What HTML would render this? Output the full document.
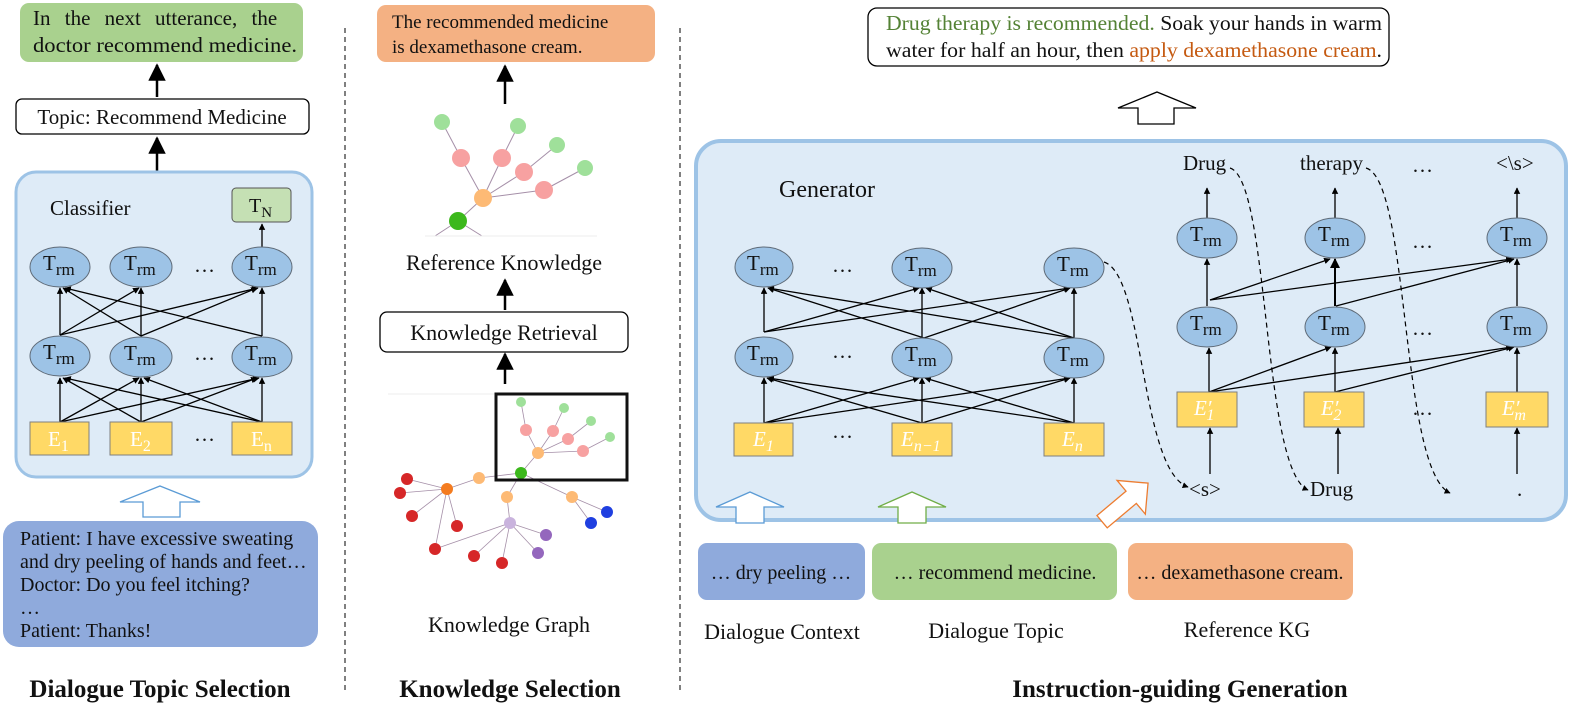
<!DOCTYPE html>
<html><head><meta charset="utf-8"><style>
html,body{margin:0;padding:0;background:#fff;}
svg{display:block;}
text{font-family:"Liberation Serif",serif;fill:#111;}
</style></head><body>
<svg width="1578" height="704" viewBox="0 0 1578 704" xmlns="http://www.w3.org/2000/svg">
<defs>
<marker id="a" viewBox="0 0 10 10" refX="9" refY="5" markerWidth="7" markerHeight="7" orient="auto-start-reverse"><path d="M0,0L10,5L0,10z" fill="#000"/></marker>
<marker id="ab" viewBox="0 0 10 10" refX="9" refY="5" markerWidth="5" markerHeight="5" orient="auto"><path d="M0,0L10,5L0,10z" fill="#000"/></marker>
</defs>

<!-- dividers -->
<line x1="345" y1="28" x2="345" y2="690" stroke="#000" stroke-dasharray="5,4" stroke-width="1"/>
<line x1="680" y1="28" x2="680" y2="690" stroke="#000" stroke-dasharray="5,4" stroke-width="1"/>

<!-- ===== LEFT ===== -->
<rect x="20" y="3" width="283" height="59" rx="9" fill="#a9d18e"/>
<text x="33" y="25" font-size="21" word-spacing="9">In the next utterance, the</text>
<text x="33" y="52" font-size="21" textLength="264" lengthAdjust="spacingAndGlyphs">doctor recommend medicine.</text>
<line x1="157" y1="97" x2="157" y2="65" stroke="#000" stroke-width="2.5" marker-end="url(#a)"/>
<rect x="16" y="99" width="293" height="35" rx="6" fill="#fff" stroke="#000" stroke-width="1.3"/>
<text x="162" y="124" font-size="21" text-anchor="middle">Topic: Recommend Medicine</text>
<line x1="157" y1="172" x2="157" y2="138" stroke="#000" stroke-width="2.5" marker-end="url(#a)"/>

<rect x="16" y="172" width="296" height="305" rx="20" fill="#deebf7" stroke="#9dc3e6" stroke-width="3"/>
<text x="50" y="215" font-size="21">Classifier</text>
<rect x="232" y="188" width="59" height="34" rx="4" fill="#c5e0b4" stroke="#555"/>
<text x="249" y="212" font-size="20">T<tspan font-size="15" dy="5">N</tspan></text>
<line x1="262" y1="247" x2="262" y2="224" stroke="#000" stroke-width="1.3" marker-end="url(#ab)"/>

<g stroke="#000" stroke-width="1.3" marker-end="url(#ab)">
<line x1="60" y1="422" x2="60" y2="378"/><line x1="60" y1="422" x2="139" y2="378"/><line x1="60" y1="422" x2="259" y2="378"/>
<line x1="141" y1="422" x2="63" y2="378"/><line x1="141" y1="422" x2="141" y2="378"/><line x1="141" y1="422" x2="257" y2="378"/>
<line x1="262" y1="422" x2="65" y2="378"/><line x1="262" y1="422" x2="144" y2="378"/><line x1="262" y1="422" x2="262" y2="378"/>
<line x1="60" y1="335" x2="60" y2="288"/><line x1="60" y1="335" x2="139" y2="288"/><line x1="60" y1="335" x2="258" y2="288"/>
<line x1="141" y1="336" x2="63" y2="288"/><line x1="141" y1="336" x2="141" y2="288"/><line x1="141" y1="336" x2="257" y2="288"/>
<line x1="262" y1="336" x2="65" y2="288"/><line x1="262" y1="336" x2="262" y2="288"/>
</g>
<g fill="#9dc3e6" stroke="#5f6b78" stroke-width="1">
<ellipse cx="60" cy="267" rx="30" ry="20"/><ellipse cx="141" cy="267" rx="31" ry="20"/><ellipse cx="262" cy="267" rx="30" ry="20"/>
<ellipse cx="60" cy="356" rx="30" ry="20"/><ellipse cx="141" cy="357" rx="31" ry="20"/><ellipse cx="262" cy="357" rx="30" ry="20"/>
</g>
<g font-size="21">
<text x="43" y="270">T<tspan font-size="17" dy="5">rm</tspan></text>
<text x="124" y="270">T<tspan font-size="17" dy="5">rm</tspan></text>
<text x="245" y="270">T<tspan font-size="17" dy="5">rm</tspan></text>
<text x="43" y="359">T<tspan font-size="17" dy="5">rm</tspan></text>
<text x="124" y="360">T<tspan font-size="17" dy="5">rm</tspan></text>
<text x="245" y="360">T<tspan font-size="17" dy="5">rm</tspan></text>
<text x="194" y="272">…</text><text x="194" y="360">…</text><text x="194" y="441">…</text>
</g>
<g fill="#ffd966" stroke="#7f7f7f" stroke-width="1">
<rect x="30" y="422" width="59" height="33"/><rect x="110" y="422" width="62" height="33"/><rect x="232" y="422" width="60" height="33"/>
</g>
<g font-size="21">
<text x="48" y="446" style="fill:#fff">E<tspan font-size="16" dy="5">1</tspan></text>
<text x="130" y="446" style="fill:#fff">E<tspan font-size="16" dy="5">2</tspan></text>
<text x="251" y="446" style="fill:#fff">E<tspan font-size="16" dy="5">n</tspan></text>
</g>

<polygon points="160,486 200,502 180,502 180,517 143,517 143,502 120,502" fill="#fff" stroke="#5b9bd5" stroke-width="1.3"/>
<rect x="3" y="521" width="315" height="126" rx="16" fill="#8faadc"/>
<g font-size="20">
<text x="20" y="545">Patient: I have excessive sweating</text>
<text x="20" y="568">and dry peeling of hands and feet…</text>
<text x="20" y="591">Doctor: Do you feel itching?</text>
<text x="20" y="614">…</text>
<text x="20" y="637">Patient: Thanks!</text>
</g>
<text x="160" y="697" font-size="25" font-weight="bold" text-anchor="middle">Dialogue Topic Selection</text>

<!-- ===== MIDDLE ===== -->
<rect x="377" y="5" width="278" height="57" rx="9" fill="#f4b183"/>
<text x="392" y="28" font-size="19">The recommended medicine</text>
<text x="392" y="53" font-size="19">is dexamethasone cream.</text>
<line x1="505" y1="104" x2="505" y2="66" stroke="#000" stroke-width="2.5" marker-end="url(#a)"/>

<g stroke="#a58fa8" stroke-width="1">
<line x1="483" y1="198" x2="461" y2="158"/><line x1="483" y1="198" x2="502" y2="158"/><line x1="483" y1="198" x2="524" y2="172"/><line x1="483" y1="198" x2="544" y2="190"/>
<line x1="461" y1="158" x2="442" y2="122"/><line x1="502" y1="158" x2="518" y2="126"/><line x1="524" y1="172" x2="557" y2="145"/><line x1="544" y1="190" x2="585" y2="168"/>
<line x1="458" y1="221" x2="483" y2="198"/><line x1="458" y1="221" x2="435" y2="236"/><line x1="458" y1="221" x2="482" y2="236"/>
</g>
<line x1="425" y1="236" x2="597" y2="236" stroke="#eee"/>
<circle cx="442" cy="122" r="8" fill="#9fe09a"/><circle cx="518" cy="126" r="8" fill="#9fe09a"/><circle cx="557" cy="145" r="8" fill="#9fe09a"/><circle cx="585" cy="168" r="8" fill="#9fe09a"/>
<circle cx="461" cy="158" r="9" fill="#f7a1a1"/><circle cx="502" cy="158" r="9" fill="#f7a1a1"/><circle cx="524" cy="172" r="9" fill="#f7a1a1"/><circle cx="544" cy="190" r="9" fill="#f7a1a1"/>
<circle cx="483" cy="198" r="9" fill="#fdba75"/><circle cx="458" cy="221" r="9" fill="#3cb81c"/>
<text x="504" y="270" font-size="22" text-anchor="middle">Reference Knowledge</text>
<line x1="505" y1="310" x2="505" y2="280" stroke="#000" stroke-width="2.5" marker-end="url(#a)"/>
<rect x="380" y="312" width="248" height="40" rx="7" fill="#fff" stroke="#000" stroke-width="1.3"/>
<text x="504" y="340" font-size="22" text-anchor="middle">Knowledge Retrieval</text>
<line x1="505" y1="384" x2="505" y2="354" stroke="#000" stroke-width="2.5" marker-end="url(#a)"/>

<line x1="388" y1="394" x2="495" y2="394" stroke="#eee"/>
<g stroke="#a58fa8" stroke-width="0.8">
<line x1="538" y1="453" x2="526" y2="430"/><line x1="538" y1="453" x2="553" y2="431"/><line x1="538" y1="453" x2="568" y2="439"/><line x1="538" y1="453" x2="583" y2="451"/>
<line x1="526" y1="430" x2="521" y2="402"/><line x1="553" y1="431" x2="564" y2="408"/><line x1="568" y1="439" x2="591" y2="421"/><line x1="583" y1="451" x2="610" y2="437"/>
<line x1="521" y1="473" x2="538" y2="453"/><line x1="521" y1="473" x2="479" y2="478"/><line x1="521" y1="473" x2="507" y2="497"/><line x1="521" y1="473" x2="572" y2="497"/>
<line x1="479" y1="478" x2="447" y2="489"/><line x1="447" y1="489" x2="407" y2="479"/><line x1="447" y1="489" x2="400" y2="493"/><line x1="447" y1="489" x2="412" y2="516"/><line x1="447" y1="489" x2="457" y2="526"/><line x1="447" y1="489" x2="435" y2="549"/>
<line x1="507" y1="497" x2="510" y2="523"/><line x1="510" y1="523" x2="435" y2="549"/><line x1="510" y1="523" x2="474" y2="556"/><line x1="510" y1="523" x2="502" y2="563"/><line x1="510" y1="523" x2="546" y2="535"/><line x1="510" y1="523" x2="538" y2="553"/>
<line x1="572" y1="497" x2="607" y2="512"/><line x1="572" y1="497" x2="591" y2="523"/>
</g>
<g>
<circle cx="521" cy="402" r="5" fill="#9fe09a"/><circle cx="564" cy="408" r="5" fill="#9fe09a"/><circle cx="591" cy="421" r="5" fill="#9fe09a"/><circle cx="610" cy="437" r="5" fill="#9fe09a"/>
<circle cx="526" cy="430" r="6" fill="#f7a1a1"/><circle cx="553" cy="431" r="6" fill="#f7a1a1"/><circle cx="568" cy="439" r="6" fill="#f7a1a1"/><circle cx="583" cy="451" r="6" fill="#f7a1a1"/>
<circle cx="538" cy="453" r="6" fill="#fdba75"/><circle cx="521" cy="473" r="6" fill="#3cb81c"/>
<circle cx="479" cy="478" r="6" fill="#fdba75"/><circle cx="447" cy="489" r="6" fill="#f47c20"/>
<circle cx="407" cy="479" r="6" fill="#d62728"/><circle cx="400" cy="493" r="6" fill="#d62728"/><circle cx="412" cy="516" r="6" fill="#d62728"/><circle cx="457" cy="526" r="6" fill="#d62728"/><circle cx="435" cy="549" r="6" fill="#d62728"/><circle cx="474" cy="556" r="6" fill="#d62728"/><circle cx="502" cy="563" r="6" fill="#d62728"/>
<circle cx="507" cy="497" r="6" fill="#fdba75"/><circle cx="510" cy="523" r="6" fill="#c9b3dd"/><circle cx="546" cy="535" r="6" fill="#9467bd"/><circle cx="538" cy="553" r="6" fill="#9467bd"/>
<circle cx="572" cy="497" r="6" fill="#fdba75"/><circle cx="607" cy="512" r="6" fill="#1f3fe0"/><circle cx="591" cy="523" r="6" fill="#1f3fe0"/>
</g>
<rect x="496" y="394" width="131" height="86" fill="none" stroke="#111" stroke-width="3"/>
<text x="509" y="632" font-size="22" text-anchor="middle">Knowledge Graph</text>
<text x="510" y="697" font-size="25" font-weight="bold" text-anchor="middle">Knowledge Selection</text>

<!-- ===== RIGHT ===== -->
<rect x="868" y="8" width="521" height="58" rx="9" fill="#fff" stroke="#000" stroke-width="1.3"/>
<text x="886" y="30" font-size="21" textLength="496" lengthAdjust="spacingAndGlyphs"><tspan style="fill:#548235">Drug therapy is recommended.</tspan> Soak your hands in warm</text>
<text x="886" y="57" font-size="21" textLength="496" lengthAdjust="spacingAndGlyphs">water for half an hour, then <tspan style="fill:#c55a11">apply dexamethasone cream</tspan>.</text>
<polygon points="1157,92 1196,108 1174,108 1174,124 1138,124 1138,108 1118,108" fill="#fff" stroke="#000" stroke-width="1.3"/>

<rect x="696" y="141" width="870" height="379" rx="25" fill="#deebf7" stroke="#9dc3e6" stroke-width="4"/>
<text x="779" y="197" font-size="24">Generator</text>

<g stroke="#000" stroke-width="1.3" marker-end="url(#ab)">
<line x1="764" y1="423" x2="764" y2="378"/><line x1="764" y1="423" x2="919" y2="378"/><line x1="764" y1="423" x2="1070" y2="378"/>
<line x1="922" y1="423" x2="767" y2="378"/><line x1="922" y1="423" x2="922" y2="378"/><line x1="922" y1="423" x2="1070" y2="378"/>
<line x1="1074" y1="423" x2="768" y2="378"/><line x1="1074" y1="423" x2="925" y2="378"/><line x1="1074" y1="423" x2="1074" y2="378"/>
<line x1="764" y1="332" x2="764" y2="288"/><line x1="764" y1="332" x2="919" y2="288"/><line x1="764" y1="332" x2="1070" y2="288"/>
<line x1="924" y1="338" x2="768" y2="288"/><line x1="922" y1="338" x2="922" y2="288"/><line x1="924" y1="338" x2="1070" y2="288"/>
<line x1="1074" y1="338" x2="768" y2="288"/><line x1="1074" y1="338" x2="926" y2="288"/><line x1="1074" y1="338" x2="1074" y2="288"/>
<line x1="1209" y1="392" x2="1209" y2="348"/><line x1="1209" y1="392" x2="1331" y2="347"/><line x1="1209" y1="392" x2="1512" y2="347"/>
<line x1="1335" y1="392" x2="1335" y2="348"/><line x1="1335" y1="392" x2="1514" y2="347"/>
<line x1="1517" y1="392" x2="1517" y2="348"/>
<line x1="1207" y1="306" x2="1207" y2="259"/><line x1="1210" y1="300" x2="1330" y2="259"/><line x1="1210" y1="300" x2="1512" y2="259"/>
<line x1="1335" y1="306" x2="1335" y2="259" stroke-width="2"/><line x1="1336" y1="306" x2="1514" y2="259"/>
<line x1="1517" y1="306" x2="1517" y2="259"/>
<line x1="1207" y1="218" x2="1207" y2="188"/><line x1="1335" y1="218" x2="1335" y2="188"/><line x1="1517" y1="218" x2="1517" y2="188"/>
<line x1="1210" y1="474" x2="1210" y2="428"/><line x1="1338" y1="474" x2="1338" y2="428"/><line x1="1517" y1="474" x2="1517" y2="428"/>
</g>

<g fill="none" stroke="#000" stroke-width="1.2" stroke-dasharray="5,4" marker-end="url(#ab)">
<path d="M1104,262 C1145,275 1140,470 1188,487"/>
<path d="M1230,168 C1270,180 1262,470 1308,490"/>
<path d="M1366,168 C1410,180 1400,470 1450,493"/>
</g>

<g fill="#9dc3e6" stroke="#5f6b78" stroke-width="1">
<ellipse cx="764" cy="267" rx="29" ry="20"/><ellipse cx="922" cy="268" rx="30" ry="20"/><ellipse cx="1074" cy="268" rx="30" ry="20"/>
<ellipse cx="764" cy="357" rx="29" ry="20"/><ellipse cx="922" cy="358" rx="30" ry="20"/><ellipse cx="1074" cy="358" rx="30" ry="20"/>
<ellipse cx="1207" cy="238" rx="30" ry="20"/><ellipse cx="1335" cy="238" rx="30" ry="20"/><ellipse cx="1517" cy="238" rx="30" ry="20"/>
<ellipse cx="1207" cy="327" rx="30" ry="20"/><ellipse cx="1335" cy="327" rx="30" ry="20"/><ellipse cx="1517" cy="327" rx="30" ry="20"/>
</g>
<g font-size="21">
<text x="747" y="270">T<tspan font-size="17" dy="5">rm</tspan></text>
<text x="905" y="271">T<tspan font-size="17" dy="5">rm</tspan></text>
<text x="1057" y="271">T<tspan font-size="17" dy="5">rm</tspan></text>
<text x="747" y="360">T<tspan font-size="17" dy="5">rm</tspan></text>
<text x="905" y="361">T<tspan font-size="17" dy="5">rm</tspan></text>
<text x="1057" y="361">T<tspan font-size="17" dy="5">rm</tspan></text>
<text x="1190" y="241">T<tspan font-size="17" dy="5">rm</tspan></text>
<text x="1318" y="241">T<tspan font-size="17" dy="5">rm</tspan></text>
<text x="1500" y="241">T<tspan font-size="17" dy="5">rm</tspan></text>
<text x="1190" y="330">T<tspan font-size="17" dy="5">rm</tspan></text>
<text x="1318" y="330">T<tspan font-size="17" dy="5">rm</tspan></text>
<text x="1500" y="330">T<tspan font-size="17" dy="5">rm</tspan></text>
<text x="832" y="272">…</text><text x="832" y="358">…</text><text x="832" y="438">…</text>
<text x="1412" y="248">…</text><text x="1412" y="335">…</text><text x="1412" y="415">…</text>
<text x="1412" y="172">…</text>
<text x="1183" y="170">Drug</text>
<text x="1300" y="170">therapy</text>
<text x="1496" y="170">&lt;\s&gt;</text>
<text x="1189" y="496">&lt;s&gt;</text>
<text x="1310" y="496">Drug</text>
<text x="1517" y="496">.</text>
</g>
<g fill="#ffd966" stroke="#7f7f7f" stroke-width="1">
<rect x="734" y="423" width="59" height="33"/><rect x="892" y="423" width="60" height="33"/><rect x="1044" y="423" width="60" height="33"/>
<rect x="1177" y="392" width="60" height="35"/><rect x="1304" y="392" width="60" height="35"/><rect x="1486" y="392" width="62" height="35"/>
</g>
<g font-size="21" font-style="italic">
<text x="753" y="446" style="fill:#fff">E<tspan font-size="16" dy="5">1</tspan></text>
<text x="901" y="446" style="fill:#fff">E<tspan font-size="16" dy="5">n−1</tspan></text>
<text x="1062" y="446" style="fill:#fff">E<tspan font-size="16" dy="5">n</tspan></text>
<text x="1194" y="415" style="fill:#fff">E′<tspan font-size="16" dy="5" dx="-5">1</tspan></text>
<text x="1321" y="415" style="fill:#fff">E′<tspan font-size="16" dy="5" dx="-5">2</tspan></text>
<text x="1502" y="415" style="fill:#fff">E′<tspan font-size="16" dy="5" dx="-5">m</tspan></text>
</g>

<polygon points="750,492 784,507 764,507 764,523 736,523 736,507 716,507" fill="#fff" stroke="#5b9bd5" stroke-width="1.3"/>
<polygon points="912,492 946,507 926,507 926,523 898,523 898,507 878,507" fill="#fff" stroke="#70ad47" stroke-width="1.3"/>
<g transform="translate(1122,505) rotate(50)">
<polygon points="0,-34 22,-12 8,-12 8,26 -8,26 -8,-12 -22,-12" fill="#fff" stroke="#ed7d31" stroke-width="1.3"/>
</g>

<rect x="698" y="543" width="167" height="57" rx="9" fill="#8faadc"/>
<rect x="872" y="543" width="245" height="57" rx="9" fill="#a9d18e"/>
<rect x="1128" y="543" width="225" height="57" rx="9" fill="#f4b183"/>
<g font-size="20" text-anchor="middle">
<text x="781" y="579">… dry peeling …</text>
<text x="995" y="579">… recommend medicine.</text>
<text x="1240" y="579">… dexamethasone cream.</text>
</g>
<g font-size="22" text-anchor="middle">
<text x="782" y="639">Dialogue Context</text>
<text x="996" y="638">Dialogue Topic</text>
<text x="1247" y="637">Reference KG</text>
</g>
<text x="1180" y="697" font-size="25" font-weight="bold" text-anchor="middle">Instruction-guiding Generation</text>
</svg>
</body></html>
